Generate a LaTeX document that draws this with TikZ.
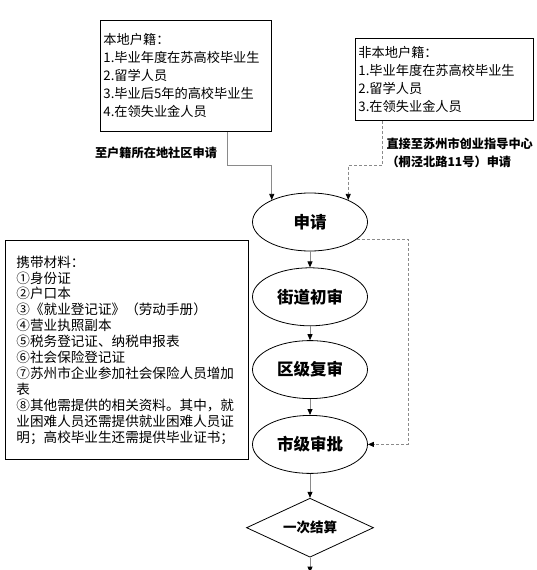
\documentclass[tikz,border=0pt]{standalone}
\usepackage{fontspec}
\setmainfont{Noto Sans CJK SC}
\usetikzlibrary{arrows.meta, positioning, shapes.geometric}
\definecolor{ink}{HTML}{000000}
\definecolor{wire}{HTML}{8A8A8A}

\begin{document}
\begin{tikzpicture}[
    x=1pt, y=-1pt,
    every node/.style={font=\fontsize{13.2}{18}\selectfont, text=ink},
    box/.style={rectangle, draw=ink, line width=0.9pt, align=left,
                anchor=north west, inner sep=3pt},
    stage/.style={ellipse, draw=ink, line width=0.8pt, minimum width=115pt,
                  minimum height=58pt, inner sep=1pt,
                  font=\fontsize{16.5}{18}\selectfont\bfseries},
    gate/.style={diamond, draw=ink, line width=0.8pt, aspect=2.15,
                 minimum width=127pt, minimum height=59pt, inner sep=1pt,
                 font=\fontsize{13.5}{16}\selectfont\bfseries},
    tag/.style={font=\fontsize{12.2}{18}\selectfont\bfseries, align=left},
    arr/.style={-{Triangle[length=6pt, width=5pt, color=ink]}, line width=0.8pt, draw=wire},
    darr/.style={arr, dash pattern=on 3pt off 2pt},
]
\useasboundingbox (0,0) rectangle (537,570);

% who may apply
\node[box, text width=165pt, minimum height=111pt] (local) at (100,20)
    {本地户籍：\\1.毕业年度在苏高校毕业生\\2.留学人员\\3.毕业后5年的高校毕业生\\4.在领失业金人员};
\node[box, text width=172pt, minimum height=82pt] (remote) at (355,38)
    {非本地户籍：\\1.毕业年度在苏高校毕业生\\2.留学人员\\3.在领失业金人员};

\node[tag] (localway) at (156,153) {至户籍所在地社区申请};
\node[tag, anchor=north west] (remoteway) at (383,134)
    {直接至苏州市创业指导中心\\（桐泾北路11号）申请};

% approval steps
\node[stage] (apply) at (310,222) {申请};
\node[stage, below=16pt of apply] (street) {街道初审};
\node[stage, below=14pt of street] (district) {区级复审};
\node[stage, below=16pt of district] (approve) {市级审批};
\node[gate, below=24pt of approve] (settle) {一次结算};
\coordinate (tail) at ([yshift=-15pt]settle.south);

\node[box, text width=221pt, minimum height=219pt, inner xsep=11pt,
      font=\fontsize{13.6}{15.9}\selectfont] (docs) at (5,240)
    {携带材料：\\①身份证\\②户口本\\③《就业登记证》（劳动手册）\\④营业执照副本\\
     ⑤税务登记证、纳税申报表\\⑥社会保险登记证\\⑦苏州市企业参加社会保险人员增加\\表\\
     ⑧其他需提供的相关资料。其中，就\\业困难人员还需提供就业困难人员证\\明；高校毕业生还需提供毕业证书；};

% connectors
\coordinate (lbend) at (apply.150 |- 0,165);
\coordinate (rbend) at (apply.30 |- 0,165);
\coordinate (skipline) at (408,0);
\draw[arr] ([xshift=41pt]local.south) |- (lbend) -- (apply.150);
\draw[darr] ([xshift=-62pt]remote.south) |- (rbend) -- (apply.30);
\draw[darr] (apply.-20) -- (apply.-20 -| skipline) |- (approve.east);

\foreach \a/\b in {apply/street, street/district, district/approve, approve/settle}{
    \draw[arr] (\a.south) -- (\b.north);
}
\draw[arr] (settle.south) -- (tail);
\end{tikzpicture}
\end{document}
